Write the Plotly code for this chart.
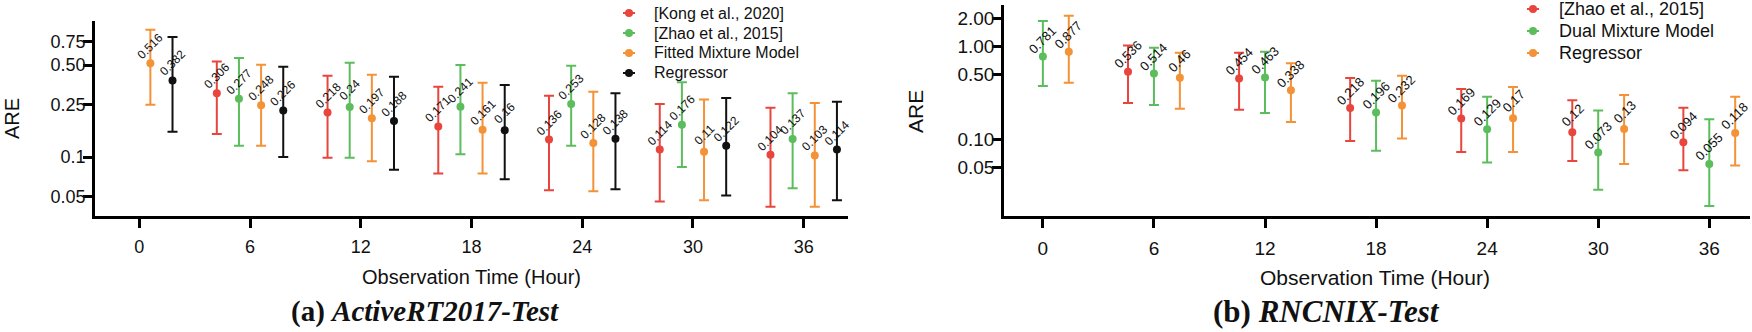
import plotly.graph_objects as go
import math

W, H = 1752, 332

hours = [0, 6, 12, 18, 24, 30, 36]

# ---- Panel (a) ActiveRT2017-Test ----
a_names = ["[Kong et al., 2020]", "[Zhao et al., 2015]", "Fitted Mixture Model", "Regressor"]
a_kong = [None, 0.306, 0.218, 0.171, 0.136, 0.114, 0.104]
a_kong_hi = [None, 0.533, 0.415, 0.342, 0.292, 0.253, 0.237]
a_kong_lo = [None, 0.150, 0.099, 0.075, 0.056, 0.046, 0.042]
a_zhao = [None, 0.277, 0.24, 0.241, 0.253, 0.176, 0.137]
a_zhao_hi = [None, 0.565, 0.521, 0.50, 0.494, 0.370, 0.306]
a_zhao_lo = [None, 0.122, 0.099, 0.105, 0.122, 0.084, 0.058]
a_fit = [0.516, 0.248, 0.197, 0.161, 0.128, 0.11, 0.103]
a_fit_hi = [0.927, 0.503, 0.422, 0.367, 0.313, 0.274, 0.257]
a_fit_lo = [0.25, 0.122, 0.093, 0.075, 0.055, 0.047, 0.042]
a_reg = [0.382, 0.226, 0.188, 0.16, 0.138, 0.122, 0.114]
a_reg_hi = [0.816, 0.485, 0.408, 0.352, 0.306, 0.281, 0.263]
a_reg_lo = [0.156, 0.100, 0.080, 0.068, 0.057, 0.051, 0.047]

# ---- Panel (b) RNCNIX-Test ----
b_names = ["[Zhao et al., 2015]", "Dual Mixture Model", "Regressor"]
b_zhao = [None, 0.536, 0.454, 0.218, 0.169, 0.12, 0.094]
b_zhao_hi = [None, 1.02, 0.855, 0.458, 0.349, 0.264, 0.220]
b_zhao_lo = [None, 0.247, 0.209, 0.097, 0.074, 0.059, 0.047]
b_dual = [0.781, 0.514, 0.463, 0.196, 0.129, 0.073, 0.055]
b_dual_hi = [1.87, 0.969, 0.877, 0.429, 0.289, 0.205, 0.166]
b_dual_lo = [0.376, 0.236, 0.193, 0.076, 0.057, 0.029, 0.0195]
b_reg = [0.877, 0.46, 0.338, 0.232, 0.17, 0.13, 0.118]
b_reg_hi = [2.13, 0.855, 0.659, 0.486, 0.367, 0.301, 0.289]
b_reg_lo = [0.408, 0.215, 0.155, 0.103, 0.074, 0.055, 0.053]

a_ticks = [0.05, 0.1, 0.25, 0.5, 0.75]
a_ticktext = ["0.05", "0.1", "0.25", "0.50", "0.75"]
b_ticks = [0.05, 0.1, 0.5, 1, 2]
b_ticktext = ["0.05", "0.10", "0.50", "1.00", "2.00"]

RED, GREEN, ORANGE, BLACK = "#E8453C", "#5CBD5C", "#F39237", "#111111"
FONT = "Liberation Sans, Arial, sans-serif"

fig = go.Figure()


def add_series(name, vals, hi, lo, color, offset, xa, ya, lblsize):
    xs, ys, up, dn = [], [], [], []
    for h, v, u, d in zip(hours, vals, hi, lo):
        if v is None:
            continue
        xs.append(h + offset)
        ys.append(v)
        up.append(u - v)
        dn.append(v - d)
    fig.add_trace(go.Scatter(
        x=xs, y=ys, mode="markers", name=name, xaxis=xa, yaxis=ya, showlegend=False,
        marker=dict(color=color, size=8),
        error_y=dict(type="data", symmetric=False, array=up, arrayminus=dn,
                     color=color, thickness=2, width=5),
        cliponaxis=False,
    ))
    for x, y in zip(xs, ys):
        fig.add_annotation(x=x, y=math.log10(y), xref=xa, yref=ya, text=f"{y:g}",
                           showarrow=False, textangle=-45, yshift=17,
                           xanchor="center", yanchor="middle",
                           font=dict(family=FONT, size=lblsize, color="#111"))


def px_x(p):
    return p / W


def px_y(p):
    return 1 - p / H


def add_legend(names, colors, key_x, text_x, rows_y, size):
    for nm, c, ry in zip(names, colors, rows_y):
        fig.add_shape(type="line", xref="paper", yref="paper",
                      x0=px_x(key_x - 6), x1=px_x(key_x + 6), y0=px_y(ry), y1=px_y(ry),
                      line=dict(color=c, width=2))
        fig.add_shape(type="circle", xref="paper", yref="paper",
                      xsizemode="pixel", ysizemode="pixel",
                      xanchor=px_x(key_x), yanchor=px_y(ry),
                      x0=-4, x1=4, y0=-4, y1=4, fillcolor=c, line=dict(width=0))
        fig.add_annotation(x=px_x(text_x), y=px_y(ry), xref="paper", yref="paper",
                           text=nm, showarrow=False, xanchor="left", yanchor="middle",
                           font=dict(family=FONT, size=size, color="#111"))


a_series = [(a_kong, a_kong_hi, a_kong_lo, RED), (a_zhao, a_zhao_hi, a_zhao_lo, GREEN),
            (a_fit, a_fit_hi, a_fit_lo, ORANGE), (a_reg, a_reg_hi, a_reg_lo, BLACK)]
dodge_a = 1.2
for i, (nm, (v, hi, lo, c)) in enumerate(zip(a_names, a_series)):
    off = (i - (len(a_series) - 1) / 2) * dodge_a
    add_series(nm, v, hi, lo, c, off, "x", "y", 12)

b_series = [(b_zhao, b_zhao_hi, b_zhao_lo, RED), (b_dual, b_dual_hi, b_dual_lo, GREEN),
            (b_reg, b_reg_hi, b_reg_lo, ORANGE)]
dodge_b = 1.4
for i, (nm, (v, hi, lo, c)) in enumerate(zip(b_names, b_series)):
    off = (i - (len(b_series) - 1) / 2) * dodge_b
    add_series(nm, v, hi, lo, c, off, "x2", "y2", 13)

add_legend(a_names, [s[3] for s in a_series], 629, 652, [13, 33, 53, 73], 16)
add_legend(b_names, [s[3] for s in b_series], 1533, 1557, [9, 31, 53], 18)

axis_common = dict(showline=True, linecolor="black", linewidth=2.5, ticks="outside",
                   ticklen=9, tickwidth=2.5, tickcolor="black", showgrid=False,
                   zeroline=False, mirror=False)

fig.update_layout(
    width=W, height=H, margin=dict(l=0, r=0, t=0, b=0),
    paper_bgcolor="white", plot_bgcolor="white",
    font=dict(family=FONT, color="#111"),
    xaxis=dict(domain=[px_x(95), px_x(848)], range=[-2.4, 38.4], tickvals=hours,
               anchor="y", tickfont=dict(size=18), ticklabelstandoff=4, **axis_common),
    yaxis=dict(domain=[px_y(216), px_y(21)], type="log",
               range=[math.log10(0.0357), math.log10(1.08)],
               tickvals=a_ticks, ticktext=a_ticktext, anchor="x",
               tickfont=dict(size=18), ticklabelstandoff=-6, **axis_common),
    xaxis2=dict(domain=[px_x(1004), px_x(1750)], range=[-2.1, 38.2], tickvals=hours,
                anchor="y2", tickfont=dict(size=19), ticklabelstandoff=4, **axis_common),
    yaxis2=dict(domain=[px_y(216), px_y(5)], type="log",
                range=[math.log10(0.0152), math.log10(2.78)],
                tickvals=b_ticks, ticktext=b_ticktext, anchor="x2",
                tickfont=dict(size=19), ticklabelstandoff=-6, **axis_common),
    showlegend=False,
)


def centered(x, y, text, size, angle=0, family=FONT):
    fig.add_annotation(x=px_x(x), y=px_y(y), xref="paper", yref="paper", text=text,
                       textangle=angle, showarrow=False, xanchor="center", yanchor="middle",
                       font=dict(family=family, size=size, color="#111"))


# axis titles
centered(12, 119, "ARE", 20, -90)
centered(471, 277, "Observation Time (Hour)", 20)
centered(916, 112, "ARE", 21, -90)
centered(1375, 277, "Observation Time (Hour)", 21)

# captions
SERIF = "Liberation Serif, Times New Roman, serif"
centered(425, 311, "<b>(a) <i>ActiveRT2017-Test</i></b>", 29, 0, SERIF)
centered(1326, 311, "<b>(b) <i>RNCNIX-Test</i></b>", 31, 0, SERIF)

fig.write_html("out.html")
